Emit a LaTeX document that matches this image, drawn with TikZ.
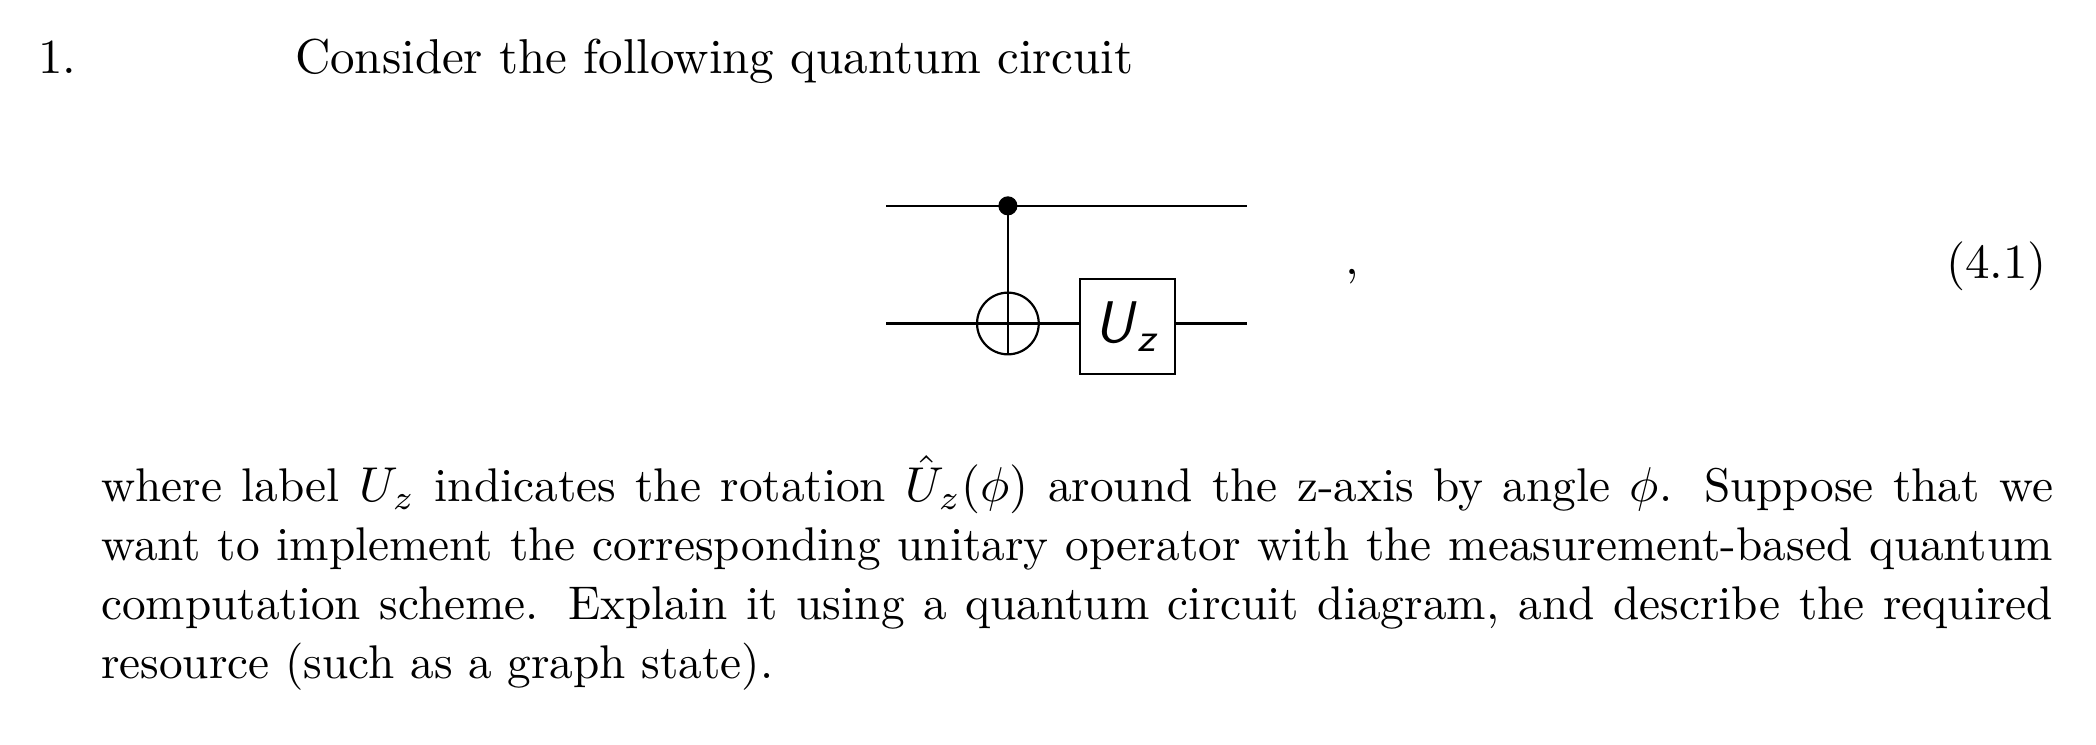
\documentclass[tikz,border=0pt]{standalone}
\usepackage{amsmath}
\begin{document}
\begin{tikzpicture}[x=0.273pt,y=-0.273pt,
  wire/.style={line width=0.45pt},
  txt/.style={inner sep=0pt,anchor=base west}]
\useasboundingbox (0,0) rectangle (1568,557);
\node[txt] (num) at (28,55) {1.};
\node[txt] (cons) at (220,55) {Consider the following quantum circuit};
% circuit
\coordinate (t0) at (663,154); \coordinate (t1) at (933,154);
\coordinate (b0) at (663,242); \coordinate (b1) at (933,242);
\draw[wire] (t0) -- (t1);
\draw[wire] (b0) -- (b1);
\node[circle,fill,inner sep=0pt,minimum size=3.9pt] (ctrl) at (754,154) {};
\node[circle,draw,line width=0.45pt,inner sep=0pt,minimum size=12.6pt] (targ) at (754,242) {};
\node[draw,fill=white,line width=0.45pt,minimum width=19.4pt,minimum height=19.4pt,inner sep=0pt] (uz) at (843.5,244.5) {\large\textsf{\textit{U}}$_{\textsf{\textit{z}}}$};
\draw[wire] (ctrl.center) -- (targ.south);
\node[txt] (comma) at (1006,205) {,};
\node[inner sep=0pt,anchor=base east] (eq) at (1532,208) {(4.1)};
\node[inner sep=0pt,anchor=north west,text width=398.6pt,align=justify,font=\fontsize{9.65}{12}\selectfont] (para) at (75,340) {where label $U_z$ indicates the rotation $\hat{U}_z(\phi)$ around the z-axis by angle $\phi$. Suppose that we want to implement the corresponding unitary operator with the measurement-based quantum computation scheme. Explain it using a quantum circuit diagram, and describe the required resource (such as a graph state).};
\end{tikzpicture}
\end{document}
